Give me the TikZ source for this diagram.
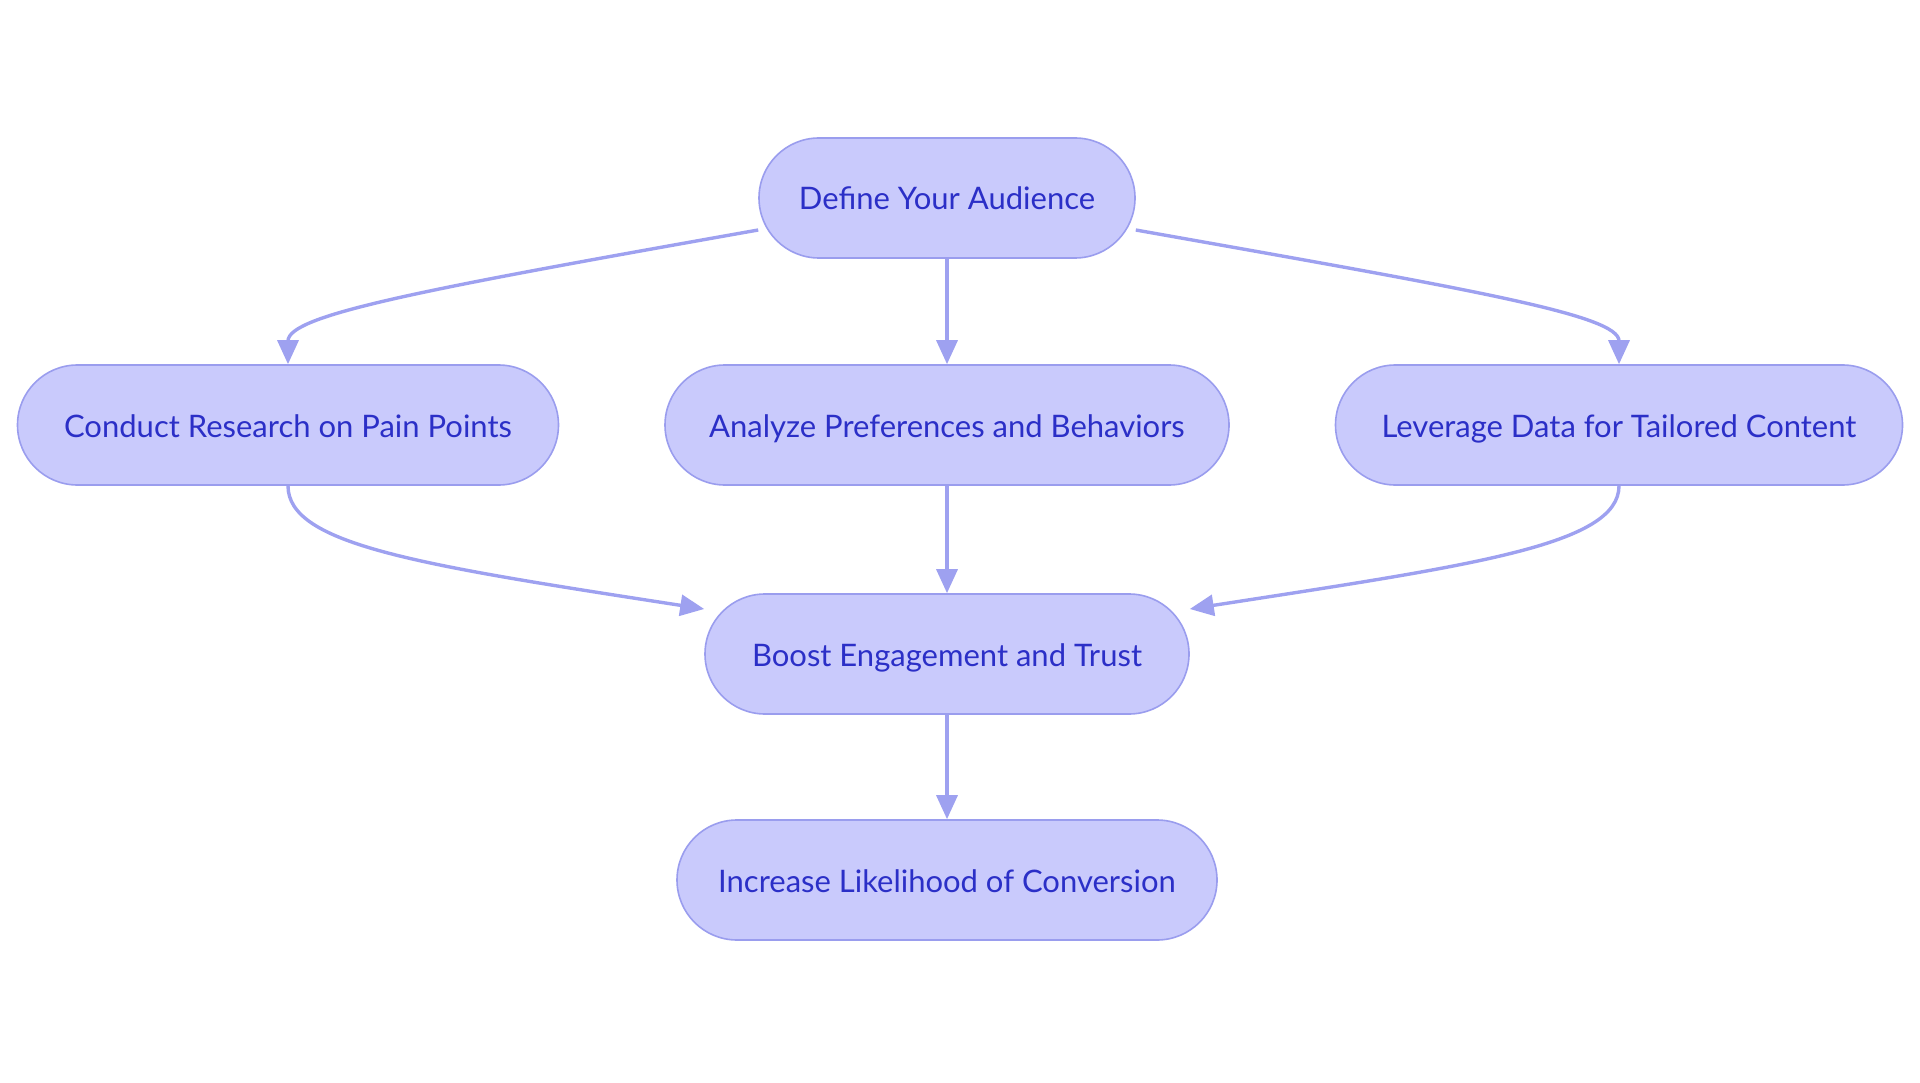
\documentclass[tikz,border=0pt]{standalone}
\usepackage{fontspec}
\setmainfont{Lato}
\usetikzlibrary{arrows.meta}
\definecolor{stagefill}{HTML}{C9CAFC}
\definecolor{stageline}{HTML}{9A9DEE}
\definecolor{stagetext}{HTML}{2B2FC7}
\definecolor{linkcol}{HTML}{9EA1F0}
\tikzset{
  stage/.style={draw=stageline, fill=stagefill, line width=1.6pt,
    rounded corners=60pt, minimum height=120pt, text=stagetext,
    font=\fontsize{31}{36}\selectfont, inner sep=0pt,
    text height=30pt, text depth=6pt},
  link/.style={draw=linkcol, line width=3.4pt,
    -{Triangle[length=24pt,width=21pt]}}
}
\begin{document}
\begin{tikzpicture}[x=1pt, y=-1pt]
  \useasboundingbox (0,0) rectangle (1920,1083);
  % stages
  \node[stage, minimum width=376pt] (define)   at (947,198)  {Define Your Audience};
  \node[stage, minimum width=541pt] (research) at (288,425)  {Conduct Research on Pain Points};
  \node[stage, minimum width=564pt] (analyze)  at (947,425)  {Analyze Preferences and Behaviors};
  \node[stage, minimum width=567pt] (leverage) at (1619,425) {Leverage Data for Tailored Content};
  \node[stage, minimum width=484pt] (boost)    at (947,654)  {Boost Engagement and Trust};
  \node[stage, minimum width=540pt] (convert)  at (947,880)  {Increase Likelihood of Conversion};
  % links
  \draw[link] ([yshift=-32pt]define.west) .. controls (420,290) and (288,315) .. (research.north);
  \draw[link] (define.south) -- (analyze.north);
  \draw[link] ([yshift=-32pt]define.east) .. controls (1474,290) and (1619,315) .. (leverage.north);
  \draw[link] (research.south) .. controls (288,545) and (420,565) .. ([yshift=45pt]boost.west);
  \draw[link] (analyze.south) -- (boost.north);
  \draw[link] (leverage.south) .. controls (1619,545) and (1474,565) .. ([yshift=45pt]boost.east);
  \draw[link] (boost.south) -- (convert.north);
\end{tikzpicture}
\end{document}
